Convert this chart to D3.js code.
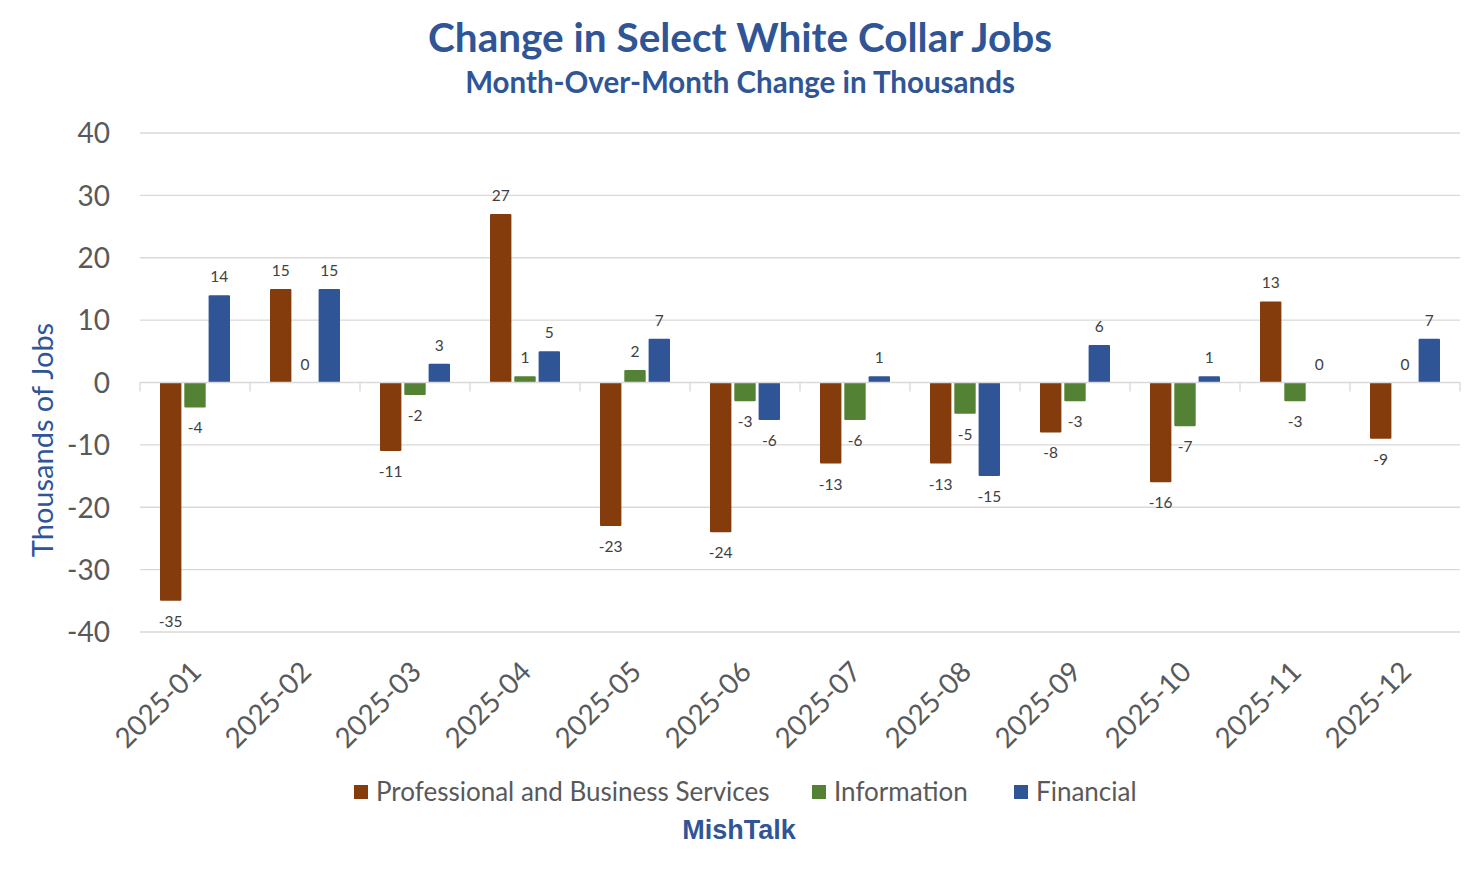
<!DOCTYPE html>
<html><head><meta charset="utf-8">
<script src="https://cdn.jsdelivr.net/npm/d3@7"></script>
<style>body{margin:0;background:#fff}svg{display:block}</style>
</head><body>
<svg id="c" width="1479" height="881"></svg>
<script>
const categories = ["2025-01","2025-02","2025-03","2025-04","2025-05","2025-06","2025-07","2025-08","2025-09","2025-10","2025-11","2025-12"];
const seriesNames = ["Professional and Business Services","Information","Financial"];
const professional = [-35,15,-11,27,-23,-24,-13,-13,-8,-16,13,-9];
const information = [-4,0,-2,1,2,-3,-6,-5,-3,-7,-3,0];
const financial = [14,15,3,5,7,-6,1,-15,6,1,0,7];
const yTicks = [-40,-30,-20,-10,0,10,20,30,40];
const colors = ["#843C0C","#548235","#2F5597"];

const seriesValues = [professional, information, financial];
const svg = d3.select("#c");
const font = "Lato, 'Open Sans', sans-serif";
const W = 1479, H = 881;
const x0 = d3.scaleBand().domain(categories).range([140,1460]).padding(0);
const x1 = d3.scaleBand().domain(seriesNames).range([20,90]).paddingInner(0.12);
const y = d3.scaleLinear().domain([-40,40]).range([632,133]);
const fmt = d => String(d);

svg.append("rect").attr("width",W).attr("height",H).attr("fill","#fff");

// gridlines
svg.append("g").selectAll("line").data(yTicks.filter(d=>d!==0)).join("line")
  .attr("x1",140).attr("x2",1460).attr("y1",d=>y(d)).attr("y2",d=>y(d))
  .attr("stroke","#D9D9D9").attr("stroke-width",1.3);

// y axis labels
const yAxis = d3.axisLeft(y).tickValues(yTicks).tickSize(0).tickPadding(0).tickFormat(fmt);
const gy = svg.append("g").attr("transform","translate(110,0)").call(yAxis);
gy.select(".domain").remove();
gy.selectAll("text").attr("font-family",font).attr("font-size",28).attr("fill","#595959").attr("dy","0.35em");

// bars
const data = [];
categories.forEach((c,i)=>seriesNames.forEach((s,j)=>data.push({c,s,j,v:seriesValues[j][i]})));
svg.append("g").selectAll("rect").data(data).join("rect")
  .attr("x",d=>x0(d.c)+x1(d.s)).attr("width",x1.bandwidth())
  .attr("y",d=>y(Math.max(0,d.v))).attr("height",d=>Math.abs(y(d.v)-y(0)))
  .attr("rx",1).attr("fill",d=>colors[d.j]);

// zero axis line + ticks
svg.append("line").attr("x1",140).attr("x2",1460).attr("y1",y(0)).attr("y2",y(0))
  .attr("stroke","#D9D9D9").attr("stroke-width",1.3);
const xAxis = d3.axisBottom(x0).tickSize(0).tickFormat("");
const boundaries = categories.map(c=>x0(c)).concat([1460]);
svg.append("g").selectAll("line").data(boundaries).join("line")
  .attr("x1",d=>d).attr("x2",d=>d).attr("y1",y(0)).attr("y2",y(0)+9)
  .attr("stroke","#D9D9D9").attr("stroke-width",1.3);

// data labels
svg.append("g").selectAll("text").data(data).join("text")
  .attr("x",d=>x0(d.c)+x1(d.s)+x1.bandwidth()/2)
  .attr("y",d=>d.v>=0 ? y(d.v)-13 : y(d.v)+26)
  .attr("text-anchor","middle").attr("font-family",font).attr("font-size",15.5).attr("fill","#404040")
  .text(d=>fmt(d.v));

// x labels rotated
const gx = svg.append("g").attr("transform",`translate(0,${y(0)})`).call(xAxis);
gx.select(".domain").remove();
gx.selectAll(".tick text")
  .text(d=>d)
  .attr("font-family",font).attr("font-size",28).attr("fill","#595959")
  .attr("text-anchor","end").attr("dy","0.35em")
  .attr("transform","translate(1,284) rotate(-45)").attr("y",0).attr("x",0);

// y axis title
svg.append("text").attr("transform","translate(53,440) rotate(-90)")
  .attr("text-anchor","middle").attr("font-family",font).attr("font-size",29).attr("fill","#2F5597")
  .text("Thousands of Jobs");

// titles
svg.append("text").attr("x",740).attr("y",52).attr("text-anchor","middle")
  .attr("font-family",font).attr("font-weight","bold").attr("font-size",40.5).attr("fill","#2F5597")
  .text("Change in Select White Collar Jobs");
svg.append("text").attr("x",740).attr("y",93).attr("text-anchor","middle")
  .attr("font-family",font).attr("font-weight","bold").attr("font-size",29.5).attr("fill","#2F5597")
  .text("Month-Over-Month Change in Thousands");

// legend
const legX = [354,812,1014];
const lg = svg.append("g").selectAll("g").data(seriesNames).join("g")
  .attr("transform",(d,i)=>`translate(${legX[i]},785)`);
lg.append("rect").attr("width",14).attr("height",14).attr("fill",(d,i)=>colors[i]);
lg.append("text").attr("x",22).attr("y",7).attr("dy","0.36em")
  .attr("font-family",font).attr("font-size",26).attr("fill","#595959").text(d=>d);

svg.append("text").attr("x",739).attr("y",839).attr("text-anchor","middle")
  .attr("font-family","'Liberation Sans', Arial, sans-serif").attr("font-weight","bold").attr("font-size",27).attr("fill","#2F5597")
  .text("MishTalk");
</script>
</body></html>
